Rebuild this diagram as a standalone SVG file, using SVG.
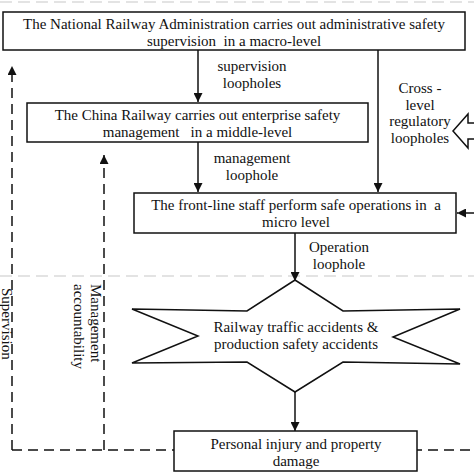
<svg xmlns="http://www.w3.org/2000/svg" width="474" height="474" viewBox="0 0 474 474">
<defs>
<style>
text{font-family:"Liberation Serif","Tinos","Times New Roman","DejaVu Serif",serif;font-size:15px;fill:#111;}
.c{text-anchor:middle;}
.box{fill:#fff;stroke:#111;stroke-width:1.5;}
.ln{fill:none;stroke:#111;stroke-width:1.5;}
.dl{fill:none;stroke:#111;stroke-width:1.5;stroke-dasharray:10,6;}
.gl{fill:none;stroke:#c8c8c8;stroke-width:1.2;stroke-dasharray:12,6;}
</style>
<marker id="ah2" viewBox="0 0 10 10" refX="10" refY="5" markerWidth="9" markerHeight="9" markerUnits="userSpaceOnUse" orient="auto">
<path d="M0,0L10,5L0,10z" fill="#111"/>
</marker>
</defs>
<rect width="474" height="474" fill="#fff"/>
<line class="gl" x1="0" y1="2" x2="474" y2="2"/>
<line class="gl" x1="0" y1="276" x2="474" y2="276"/>
<g id="connectors">
<line class="dl" x1="12" y1="450" x2="474" y2="450"/>
<line class="dl" x1="12" y1="450" x2="12" y2="66" marker-end="url(#ah2)"/>
<line class="dl" x1="104" y1="450" x2="104" y2="155" marker-end="url(#ah2)"/>
<line class="dl" x1="474" y1="213" x2="457" y2="213" marker-end="url(#ah2)"/>
<line class="ln" x1="198" y1="50" x2="198" y2="102" marker-end="url(#ah2)"/>
<line class="ln" x1="198" y1="142" x2="198" y2="192" marker-end="url(#ah2)"/>
<line class="ln" x1="378" y1="50" x2="378" y2="192" marker-end="url(#ah2)"/>
<line class="ln" x1="295" y1="233" x2="295" y2="281" marker-end="url(#ah2)"/>
<line class="ln" x1="295" y1="392" x2="295" y2="431" marker-end="url(#ah2)"/>
<path class="box" d="M453,131L468,114L468,123L476,123L476,139L468,139L468,148z"/>
<text class="c" x="252" y="71">supervision</text>
<text class="c" x="252" y="87.5">loopholes</text>
<text class="c" x="252" y="163">management</text>
<text class="c" x="252" y="179.5">loophole</text>
<text class="c" x="339" y="252">Operation</text>
<text class="c" x="339" y="268.5">loophole</text>
<text class="c" x="420" y="93">Cross -</text>
<text class="c" x="420" y="109.5">level</text>
<text class="c" x="420" y="126">regulatory</text>
<text class="c" x="420" y="142.5">loopholes</text>
<text transform="translate(2,288) rotate(90)">Supervision</text>
<text transform="translate(90.5,284) rotate(90)">Management</text>
<text transform="translate(74,284) rotate(90)">accountability</text>
</g>
<g id="n1">
<rect class="box" x="3" y="12" width="462" height="38"/>
<text class="c" x="234" y="28.5">The National Railway Administration carries out administrative safety</text>
<text class="c" x="234" y="45.5" xml:space="preserve">supervision  in a macro-level</text>
</g>
<g id="n2">
<rect class="box" x="27" y="103" width="341" height="39"/>
<text class="c" x="197.5" y="119.5">The China Railway carries out enterprise safety</text>
<text class="c" x="197.5" y="136.5" xml:space="preserve">management   in a middle-level</text>
</g>
<g id="n3">
<rect class="box" x="134" y="193" width="322" height="40"/>
<text class="c" x="296" y="210" xml:space="preserve">The front-line staff perform safe operations in  a</text>
<text class="c" x="296" y="227">micro level</text>
</g>
<g id="n4">
<path class="box" d="M295,280L343,311L460,309L393,337L460,364L343,362L295,392L247,362L132,363L198,336L132,309L247,311z"/>
<text class="c" x="296" y="332">Railway traffic accidents &amp;</text>
<text class="c" x="296" y="349">production safety accidents</text>
</g>
<g id="n5">
<rect class="box" x="174" y="431" width="243" height="40"/>
<text class="c" x="296" y="448.5">Personal injury and property</text>
<text class="c" x="296" y="465.5">damage</text>
</g>
</svg>
